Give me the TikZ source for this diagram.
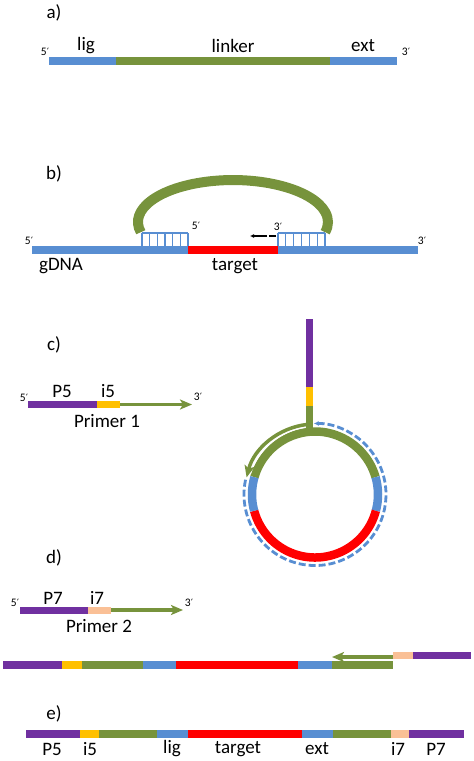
\documentclass[tikz,border=0pt]{standalone}
\usepackage{fontspec}
\setmainfont{Carlito}
\newfontfamily\primefont{DejaVu Sans}
\newcommand{\prm}{{\primefont\fontsize{10}{12}\selectfont ′}}
\usetikzlibrary{arrows.meta,calc}

\definecolor{dnablue}{RGB}{88,142,210}
\definecolor{olive}{RGB}{119,147,60}
\definecolor{tgtred}{RGB}{255,0,0}
\definecolor{pfive}{RGB}{112,48,160}
\definecolor{ifive}{RGB}{255,192,0}
\definecolor{iseven}{RGB}{250,192,150}

\tikzstyle{lbl} = [font={\fontsize{19}{21}\selectfont}, inner sep=0pt]
\tikzstyle{prime} = [font={\fontsize{11.5}{12}\selectfont}, inner sep=0pt]
\tikzstyle{strand} = [line width=8]
\tikzstyle{primer} = [line width=7]
\tikzstyle{growth} = [draw=olive, line width=3.5, -{Stealth[length=12pt,width=10pt,inset=3pt]}]
\tikzstyle{ring} = [line width=8.5]

\begin{document}
\begin{tikzpicture}[x=1pt,y=-1pt]
\useasboundingbox (0,0) rectangle (474,761);

% a) ligation probe
\node [lbl] (pa) at (54,13) {a)};
\draw [strand, dnablue] (49,61) -- (116,61);
\draw [strand, olive] (116,61) -- (330,61);
\draw [strand, dnablue] (330,61) -- (397,61);
\node [prime] (a5) at (45,52) {5\prm};
\node [prime] (a3) at (406,52) {3\prm};
\node [lbl] (alig) at (86,46) {lig};
\node [lbl] (alinker) at (233,46) {linker};
\node [lbl] (aext) at (363,46) {ext};

% b) probe annealed to gDNA
\node [lbl] (pb) at (54,174) {b)};
\draw [strand, dnablue] (32,250) -- (188,250);
\draw [strand, tgtred] (188,250) -- (278,250);
\draw [strand, dnablue] (278,250) -- (418,250);
\draw [dnablue, line width=2.5] (142,233) -- (188,233);
\draw [dnablue, line width=2.5] (278,233) -- (325,233);
\foreach \i in {0,...,6} {
  \draw [dnablue, line width=1.2] (142+\i*7.67,233) -- (142+\i*7.67,246);
  \draw [dnablue, line width=1.2] (278+\i*7.83,233) -- (278+\i*7.83,246);
}
\draw [olive, line width=10] (140.8,232.2) arc[start angle=166, end angle=374, x radius=95, y radius=42];
\draw [line width=1.2, dash pattern=on 7pt off 2pt on 30pt off 0pt, -{Latex[length=4pt,width=4pt]}] (276,236) -- (250,236);
\node [prime] (b5l) at (29,241) {5\prm};
\node [prime] (b3r) at (422,241) {3\prm};
\node [prime] (b5) at (196,226) {5\prm};
\node [prime] (b3) at (278,227) {3\prm};
\node [lbl] (bgdna) at (61,266) {gDNA};
\node [lbl] (btarget) at (235,266) {target};

% c) primer 1 and circle
\node [lbl] (pc) at (54,345) {c)};
\draw [primer, pfive] (28,404.5) -- (97,404.5);
\draw [primer, ifive] (97,404.5) -- (120,404.5);
\draw [growth] (120,404.5) -- (192,404.5);
\node [prime] (c5) at (24,398) {5\prm};
\node [prime] (c3) at (198,397) {3\prm};
\node [lbl] (cp5) at (62,391) {P5};
\node [lbl] (ci5) at (108,391) {i5};
\node [lbl] (cprimer) at (107,421) {Primer 1};

\coordinate (cc) at (315,494.5);
\draw [primer, pfive] (309.5,319) -- (309.5,387);
\draw [primer, ifive] (309.5,387) -- (309.5,406);
\draw [primer, olive] (309.5,406) -- (309.5,433);
\draw [ring, olive] ($(cc)+(196:63)$) arc[start angle=196, end angle=344, radius=63];
\draw [ring, dnablue] ($(cc)+(344:63)$) arc[start angle=344, end angle=375, radius=63];
\draw [ring, tgtred] ($(cc)+(15:63)$) arc[start angle=15, end angle=165, radius=63];
\draw [ring, dnablue] ($(cc)+(165:63)$) arc[start angle=165, end angle=196, radius=63];
\draw [white, line width=1.2] ($(cc)+(262:67.8)$) arc[start angle=262, end angle=198, radius=67.8];
\draw [growth] ($(cc)+(264:70.5)$) arc[start angle=264, end angle=194, radius=70.5];
\draw [dnablue, line width=2.8, dash pattern=on 7pt off 3pt, -{Latex[length=5pt,width=5pt]}] ($(cc)+(192:71)$) arc[start angle=192, end angle=-91, radius=71];

% d) primer 2 and extension
\node [lbl] (pd) at (54,558) {d)};
\draw [primer, pfive] (20,610) -- (88,610);
\draw [primer, iseven] (88,610) -- (111,610);
\draw [growth] (111,610) -- (183,610);
\node [prime] (d5) at (15,603) {5\prm};
\node [prime] (d3) at (189,603) {3\prm};
\node [lbl] (dp7) at (53,598) {P7};
\node [lbl] (di7) at (97,598) {i7};
\node [lbl] (dprimer) at (99,626) {Primer 2};

\draw [strand, pfive] (3,664.5) -- (62,664.5);
\draw [strand, ifive] (62,664.5) -- (82,664.5);
\draw [strand, olive] (82,664.5) -- (143,664.5);
\draw [strand, dnablue] (143,664.5) -- (176,664.5);
\draw [strand, tgtred] (176,664.5) -- (298,664.5);
\draw [strand, dnablue] (298,664.5) -- (332,664.5);
\draw [strand, olive] (332,664.5) -- (393,664.5);
\draw [primer, iseven] (393,655.5) -- (413,655.5);
\draw [primer, pfive] (413,655.5) -- (471,655.5);
\draw [growth] (393,657) -- (332,657);

% e) final library molecule
\node [lbl] (pe) at (54,714) {e)};
\draw [strand, pfive] (26,734) -- (80,734);
\draw [strand, ifive] (80,734) -- (99,734);
\draw [strand, olive] (99,734) -- (157,734);
\draw [strand, dnablue] (157,734) -- (188,734);
\draw [strand, tgtred] (188,734) -- (302,734);
\draw [strand, dnablue] (302,734) -- (333,734);
\draw [strand, olive] (333,734) -- (391,734);
\draw [strand, iseven] (391,734) -- (409,734);
\draw [strand, pfive] (409,734) -- (464,734);
\node [lbl] (ep5) at (52,749) {P5};
\node [lbl] (ei5) at (90,749) {i5};
\node [lbl] (elig) at (172,749) {lig};
\node [lbl] (etarget) at (238,749) {target};
\node [lbl] (eext) at (317,749) {ext};
\node [lbl] (ei7) at (398,749) {i7};
\node [lbl] (ep7) at (436,749) {P7};
\end{tikzpicture}
\end{document}
